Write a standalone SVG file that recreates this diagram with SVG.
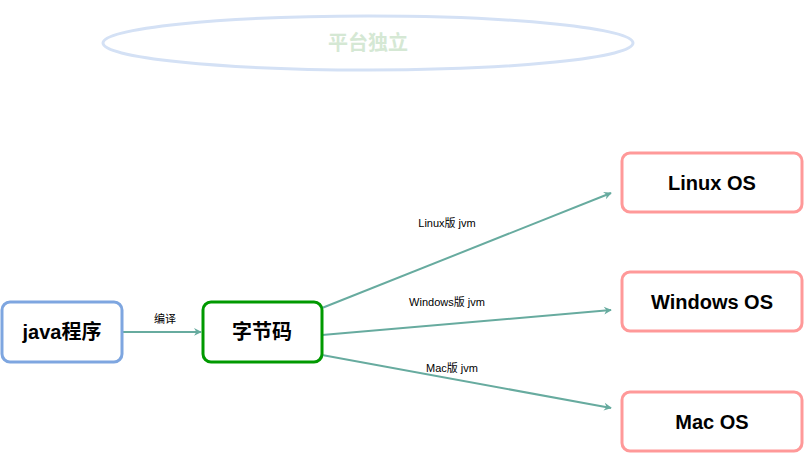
<svg xmlns="http://www.w3.org/2000/svg" width="804" height="454" viewBox="0 0 804 454">
<defs>
<style>
.b{fill:#fff;stroke-width:3}
.t{font-family:"Liberation Sans","Noto Sans CJK SC",sans-serif;font-weight:bold;font-size:20px;text-anchor:middle;dominant-baseline:central;fill:#000}
.l{font-family:"Liberation Sans","Noto Sans CJK SC",sans-serif;font-size:11px;text-anchor:middle;dominant-baseline:central;fill:#000}
.c{stroke:#67AB9F;stroke-width:2;fill:none;marker-end:url(#a)}
</style>
<marker id="a" viewBox="0 0 10 10" refX="9" refY="5" markerWidth="6" markerHeight="6" orient="auto" markerUnits="userSpaceOnUse" style="overflow:visible">
<path d="M0,0 L10,5 L0,10 L3,5 z" fill="#67AB9F" transform="scale(1.3) translate(-2,-1.2)"/>
</marker>
</defs>
<rect width="804" height="454" fill="#fff"/>
<g id="title"><ellipse cx="368" cy="43" rx="265" ry="27" fill="#fff" stroke="#D4E1F5" stroke-width="3"/><text class="t" x="368" y="43" fill="#D5E8D4" style="fill:#D5E8D4">平台独立</text></g>
<g id="connectors">
<line class="c" x1="122" y1="332" x2="201" y2="332"/>
<text class="l" x="165" y="319">编译</text>
<line class="c" x1="322" y1="308" x2="611" y2="193"/>
<line class="c" x1="322" y1="335" x2="611" y2="310"/>
<line class="c" x1="322" y1="355" x2="611" y2="408"/>
<text class="l" x="447" y="223">Linux版 jvm</text>
<text class="l" x="447" y="302">Windows版 jvm</text>
<text class="l" x="452" y="368">Mac版 jvm</text>
</g>
<g id="java"><rect class="b" x="2" y="302" width="120" height="60" rx="8" stroke="#7EA6E0"/><text class="t" x="62" y="332">java程序</text></g>
<g id="bytecode"><rect class="b" x="203" y="302" width="119" height="60" rx="8" stroke="#009900"/><text class="t" x="262" y="332">字节码</text></g>
<g id="linux"><rect class="b" x="622" y="153" width="180" height="59" rx="8" stroke="#FF9999"/><text class="t" x="712" y="183">Linux OS</text></g>
<g id="windows"><rect class="b" x="622" y="272" width="180" height="59" rx="8" stroke="#FF9999"/><text class="t" x="712" y="302">Windows OS</text></g>
<g id="mac"><rect class="b" x="622" y="392" width="180" height="59" rx="8" stroke="#FF9999"/><text class="t" x="712" y="422">Mac OS</text></g>
</svg>
